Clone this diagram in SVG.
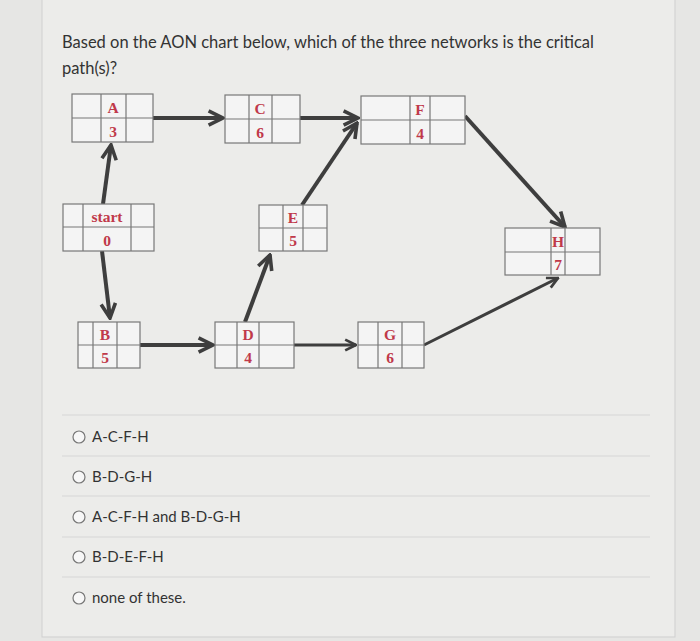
<svg xmlns="http://www.w3.org/2000/svg" width="700" height="641" viewBox="0 0 700 641">
<style>
.bx{fill:#f4f4f4;stroke:#777;stroke-width:1.2}
.ln{stroke:#777;stroke-width:1.2}
.lb{font-family:"Liberation Serif",serif;font-weight:bold;font-size:15.5px;fill:#c0394a;text-anchor:middle}
.c{fill:none;stroke:#3e3e3e;stroke-width:4;marker-end:url(#ah)}
.t{font-family:Lato,"Liberation Sans",sans-serif;font-size:15px;fill:#333}
.q{font-family:Lato,"Liberation Sans",sans-serif;font-size:16.5px;fill:#333}
.sep{stroke:#d6d6d6;stroke-width:1.2}
.rd{fill:#f7f7f7;stroke:#777;stroke-width:1.2}
</style>
<defs><marker id="ah" viewBox="0 0 10 10" refX="9" refY="5" markerWidth="4.5" markerHeight="4.5" orient="auto" markerUnits="strokeWidth"><path d="M1,1 L9,5 L1,9" fill="none" stroke="#3e3e3e" stroke-width="2"/></marker></defs>
<rect width="700" height="641" fill="#e6e6e4"/>
<rect x="42" y="-2" width="633" height="639" fill="#ececea" stroke="#cfcfcf"/>
<text class="q" x="62" y="48">Based on the AON chart below, which of the three networks is the critical</text>
<text class="q" x="62" y="74">path(s)?</text>
<g id="connectors">
<path class="c" d="M153,118 L223,118"/>
<path class="c" d="M300,118 L358,118"/>
<path class="c" d="M465,116 L565,227"/>
<path class="c" d="M103,204 L111,145"/>
<path class="c" d="M102,251 L110,318"/>
<path class="c" d="M302,205 L357,123"/>
<path class="c" d="M245,322 L270,255"/>
<path class="c" d="M140,345 L213,345"/>
<path class="c" d="M294,345 L356,345" style="stroke-width:3"/>
<path class="c" d="M424,345 L558,278" style="stroke-width:3"/>
</g>
<g id="A"><rect class="bx" x="72" y="94" width="81" height="48"/><path class="ln" d="M72,118H153M101,94V142M126,94V142"/><text class="lb" x="113" y="113">A</text><text class="lb" x="113" y="137">3</text></g>
<g id="C"><rect class="bx" x="225" y="95" width="75" height="48"/><path class="ln" d="M225,119H300M249,95V143M272,95V143"/><text class="lb" x="260" y="114">C</text><text class="lb" x="260" y="138">6</text></g>
<g id="F"><rect class="bx" x="361" y="96" width="104" height="48"/><path class="ln" d="M361,120H465M410,96V144M430,96V144"/><text class="lb" x="420" y="115">F</text><text class="lb" x="420" y="139">4</text></g>
<g id="start"><rect class="bx" x="63" y="204" width="91" height="47"/><path class="ln" d="M63,227H154M83,204V251M131,204V251"/><text class="lb" x="107" y="222">start</text><text class="lb" x="107" y="246">0</text></g>
<g id="E"><rect class="bx" x="259" y="205" width="68" height="46"/><path class="ln" d="M259,228H327M283,205V251M303,205V251"/><text class="lb" x="293" y="223">E</text><text class="lb" x="293" y="246">5</text></g>
<g id="H"><rect class="bx" x="505" y="228" width="95" height="47"/><path class="ln" d="M505,252H600M551,228V275M565,228V275"/><text class="lb" x="558" y="247">H</text><text class="lb" x="558" y="270">7</text></g>
<g id="B"><rect class="bx" x="78" y="322" width="62" height="46"/><path class="ln" d="M78,345H140M93,322V368M117,322V368"/><text class="lb" x="105" y="340">B</text><text class="lb" x="105" y="363">5</text></g>
<g id="D"><rect class="bx" x="215" y="322" width="79" height="46"/><path class="ln" d="M215,345H294M237,322V368M259,322V368"/><text class="lb" x="248" y="340">D</text><text class="lb" x="248" y="363">4</text></g>
<g id="G"><rect class="bx" x="358" y="322" width="66" height="46"/><path class="ln" d="M358,345H424M378,322V368M402,322V368"/><text class="lb" x="390" y="340">G</text><text class="lb" x="390" y="363">6</text></g>
<g id="options">
<path class="sep" d="M62,415H650M62,456H650M62,496H650M62,537H650M62,577H650"/>
<circle class="rd" cx="79" cy="437" r="6"/><text class="t" x="92" y="442">A-C-F-H</text>
<circle class="rd" cx="79" cy="477" r="6"/><text class="t" x="92" y="482">B-D-G-H</text>
<circle class="rd" cx="79" cy="517" r="6"/><text class="t" x="92" y="522">A-C-F-H and B-D-G-H</text>
<circle class="rd" cx="79" cy="557" r="6"/><text class="t" x="92" y="562">B-D-E-F-H</text>
<circle class="rd" cx="79" cy="598" r="6"/><text class="t" x="92" y="603">none of these.</text>
</g>
</svg>
